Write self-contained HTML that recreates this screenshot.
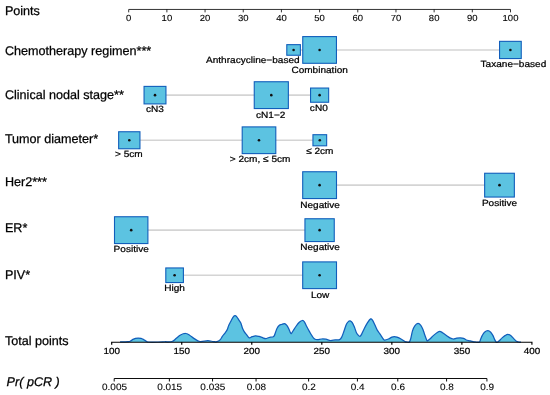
<!DOCTYPE html><html><head><meta charset="utf-8"><title>Nomogram</title><style>html,body{margin:0;padding:0;background:#fff}svg{display:block}text{font-family:"Liberation Sans",Arial,sans-serif;fill:#000;stroke:#000;stroke-width:0.25px;text-rendering:geometricPrecision}.s{font-size:10.05px}.l{font-size:12.6px}.t{font-size:9.5px;stroke-width:0.1px}.t2{font-size:9.9px}.t3{font-size:10px;stroke-width:0.1px}.m{text-anchor:middle}</style></head><body>
<svg width="550" height="395" viewBox="0 0 550 395">
<rect width="550" height="395" fill="#fff"/>
<text class="l" x="4.9" y="15.2">Points</text>
<text class="l" x="4.9" y="55">Chemotherapy regimen***</text>
<text class="l" x="4.9" y="99.1">Clinical nodal stage**</text>
<text class="l" x="4.9" y="143.0">Tumor diameter*</text>
<text class="l" x="4.9" y="186.3">Her2***</text>
<text class="l" x="4.9" y="232.3">ER*</text>
<text class="l" x="4.9" y="279.1">PIV*</text>
<text class="l" x="4.9" y="345.1">Total points</text>
<text class="l" x="6.6" y="386.1" font-style="italic">Pr( pCR )</text>
<path d="M128.7 12.35V9.45H510.5V12.35M166.88 9.45v2.9M205.06 9.45v2.9M243.24 9.45v2.9M281.42 9.45v2.9M319.60 9.45v2.9M357.78 9.45v2.9M395.96 9.45v2.9M434.14 9.45v2.9M472.32 9.45v2.9" fill="none" stroke="#000" stroke-width="0.8"/>
<text class="t" text-anchor="middle" transform="translate(128.70 21.30) scale(1 0.93)">0</text>
<text class="t" text-anchor="middle" transform="translate(166.88 21.30) scale(1 0.93)">10</text>
<text class="t" text-anchor="middle" transform="translate(205.06 21.30) scale(1 0.93)">20</text>
<text class="t" text-anchor="middle" transform="translate(243.24 21.30) scale(1 0.93)">30</text>
<text class="t" text-anchor="middle" transform="translate(281.42 21.30) scale(1 0.93)">40</text>
<text class="t" text-anchor="middle" transform="translate(319.60 21.30) scale(1 0.93)">50</text>
<text class="t" text-anchor="middle" transform="translate(357.78 21.30) scale(1 0.93)">60</text>
<text class="t" text-anchor="middle" transform="translate(395.96 21.30) scale(1 0.93)">70</text>
<text class="t" text-anchor="middle" transform="translate(434.14 21.30) scale(1 0.93)">80</text>
<text class="t" text-anchor="middle" transform="translate(472.32 21.30) scale(1 0.93)">90</text>
<text class="t" text-anchor="middle" transform="translate(510.50 21.30) scale(1 0.93)">100</text>
<line x1="293.6" x2="510.4" y1="49.95" y2="49.95" stroke="#d4d4d4" stroke-width="1.6"/>
<rect x="286.80" y="44.65" width="13.60" height="10.60" fill="#5cc3e1" stroke="#115ebb" stroke-width="1.1"/>
<circle cx="293.6" cy="49.95" r="1.3" fill="#111"/>
<rect x="302.75" y="36.60" width="33.70" height="26.70" fill="#5cc3e1" stroke="#115ebb" stroke-width="1.1"/>
<circle cx="319.6" cy="49.95" r="1.3" fill="#111"/>
<text class="s" text-anchor="middle" transform="translate(319.60 72.80) scale(1 0.9)">Combination</text>
<rect x="499.55" y="41.35" width="21.70" height="17.20" fill="#5cc3e1" stroke="#115ebb" stroke-width="1.1"/>
<circle cx="510.4" cy="49.95" r="1.3" fill="#111"/>
<text class="s" text-anchor="middle" transform="translate(513.40 67.00) scale(1 0.9)">Taxane−based</text>
<line x1="155.0" x2="319.6" y1="95.15" y2="95.15" stroke="#d4d4d4" stroke-width="1.6"/>
<rect x="144.05" y="86.40" width="21.90" height="17.50" fill="#5cc3e1" stroke="#115ebb" stroke-width="1.1"/>
<circle cx="155.0" cy="95.15" r="1.3" fill="#111"/>
<text class="s" text-anchor="middle" transform="translate(155.00 112.20) scale(1 0.9)">cN3</text>
<rect x="254.25" y="81.75" width="34.10" height="26.80" fill="#5cc3e1" stroke="#115ebb" stroke-width="1.1"/>
<circle cx="271.3" cy="95.15" r="1.3" fill="#111"/>
<text class="s" text-anchor="middle" transform="translate(270.70 117.50) scale(1 0.9)">cN1−2</text>
<rect x="310.55" y="88.05" width="18.10" height="14.20" fill="#5cc3e1" stroke="#115ebb" stroke-width="1.1"/>
<circle cx="319.6" cy="95.15" r="1.3" fill="#111"/>
<text class="s" text-anchor="middle" transform="translate(318.80 111.00) scale(1 0.9)">cN0</text>
<line x1="129.3" x2="319.8" y1="140.25" y2="140.25" stroke="#d4d4d4" stroke-width="1.6"/>
<rect x="118.65" y="131.75" width="21.30" height="17.00" fill="#5cc3e1" stroke="#115ebb" stroke-width="1.1"/>
<circle cx="129.3" cy="140.25" r="1.3" fill="#111"/>
<text class="s" text-anchor="middle" transform="translate(128.80 157.10) scale(1 0.9)">&gt; 5cm</text>
<rect x="242.20" y="126.90" width="33.60" height="26.70" fill="#5cc3e1" stroke="#115ebb" stroke-width="1.1"/>
<circle cx="259" cy="140.25" r="1.3" fill="#111"/>
<text class="s" text-anchor="middle" transform="translate(260.10 162.00) scale(1 0.9)">&gt; 2cm, ≤ 5cm</text>
<rect x="312.95" y="134.70" width="13.70" height="11.10" fill="#5cc3e1" stroke="#115ebb" stroke-width="1.1"/>
<circle cx="319.8" cy="140.25" r="1.3" fill="#111"/>
<text class="s" text-anchor="middle" transform="translate(319.80 153.80) scale(1 0.9)">≤ 2cm</text>
<line x1="319.6" x2="499.5" y1="185.15" y2="185.15" stroke="#d4d4d4" stroke-width="1.6"/>
<rect x="302.70" y="171.75" width="33.80" height="26.80" fill="#5cc3e1" stroke="#115ebb" stroke-width="1.1"/>
<circle cx="319.6" cy="185.15" r="1.3" fill="#111"/>
<text class="s" text-anchor="middle" transform="translate(320.10 207.60) scale(1 0.9)">Negative</text>
<rect x="484.65" y="173.25" width="29.70" height="23.80" fill="#5cc3e1" stroke="#115ebb" stroke-width="1.1"/>
<circle cx="499.5" cy="185.15" r="1.3" fill="#111"/>
<text class="s" text-anchor="middle" transform="translate(499.50 206.00) scale(1 0.9)">Positive</text>
<line x1="131.2" x2="319.6" y1="230.15" y2="230.15" stroke="#d4d4d4" stroke-width="1.6"/>
<rect x="114.50" y="216.75" width="33.40" height="26.80" fill="#5cc3e1" stroke="#115ebb" stroke-width="1.1"/>
<circle cx="131.2" cy="230.15" r="1.3" fill="#111"/>
<text class="s" text-anchor="middle" transform="translate(131.20 251.70) scale(1 0.9)">Positive</text>
<rect x="304.95" y="218.75" width="29.30" height="22.80" fill="#5cc3e1" stroke="#115ebb" stroke-width="1.1"/>
<circle cx="319.6" cy="230.15" r="1.3" fill="#111"/>
<text class="s" text-anchor="middle" transform="translate(320.10 250.40) scale(1 0.9)">Negative</text>
<line x1="174.6" x2="319.6" y1="275.25" y2="275.25" stroke="#d4d4d4" stroke-width="1.6"/>
<rect x="165.80" y="267.95" width="17.60" height="14.60" fill="#5cc3e1" stroke="#115ebb" stroke-width="1.1"/>
<circle cx="174.6" cy="275.25" r="1.3" fill="#111"/>
<text class="s" text-anchor="middle" transform="translate(174.60 291.10) scale(1 0.9)">High</text>
<rect x="302.70" y="261.90" width="33.80" height="26.70" fill="#5cc3e1" stroke="#115ebb" stroke-width="1.1"/>
<circle cx="319.6" cy="275.25" r="1.3" fill="#111"/>
<text class="s" text-anchor="middle" transform="translate(320.10 297.60) scale(1 0.9)">Low</text>
<text class="s" text-anchor="end" transform="translate(299.60 63.10) scale(1 0.9)">Anthracycline−based</text>
<path d="M120.00 342.00C120.47 341.97 121.47 341.85 122.80 341.80C124.13 341.75 126.77 341.78 128.00 341.70C129.23 341.62 129.37 341.68 130.20 341.30C131.03 340.92 132.12 339.88 133.00 339.40C133.88 338.92 134.63 338.63 135.50 338.40C136.37 338.17 137.28 338.00 138.20 338.00C139.12 338.00 140.15 338.17 141.00 338.40C141.85 338.63 142.35 338.88 143.30 339.40C144.25 339.92 145.83 341.07 146.70 341.50C147.57 341.93 146.62 341.92 148.50 342.00C150.38 342.08 155.32 342.04 158.00 342.00C160.68 341.96 162.27 341.83 164.60 341.75C166.93 341.67 170.10 342.02 172.00 341.50C173.90 340.98 174.58 339.68 176.00 338.60C177.42 337.52 178.90 335.85 180.50 335.00C182.10 334.15 184.08 333.47 185.60 333.50C187.12 333.53 188.17 334.35 189.60 335.20C191.03 336.05 192.48 337.55 194.20 338.60C195.92 339.65 197.63 341.15 199.90 341.50C202.17 341.85 205.55 340.68 207.80 340.70C210.05 340.72 211.90 341.43 213.40 341.60C214.90 341.77 215.65 342.03 216.80 341.70C217.95 341.37 219.35 340.52 220.30 339.60C221.25 338.68 221.75 337.25 222.50 336.20C223.25 335.15 224.03 334.35 224.80 333.30C225.57 332.25 226.43 331.23 227.10 329.90C227.77 328.57 228.13 326.82 228.80 325.30C229.47 323.78 230.35 322.22 231.10 320.80C231.85 319.38 232.63 317.65 233.30 316.80C233.97 315.95 234.52 315.70 235.10 315.70C235.68 315.70 236.15 316.05 236.80 316.80C237.45 317.55 238.33 319.15 239.00 320.20C239.67 321.25 240.22 321.77 240.80 323.10C241.38 324.43 241.93 326.78 242.50 328.20C243.07 329.62 243.55 330.57 244.20 331.60C244.85 332.63 245.55 333.35 246.40 334.40C247.25 335.45 248.35 337.52 249.30 337.90C250.25 338.28 251.05 337.05 252.10 336.70C253.15 336.35 254.45 335.85 255.60 335.80C256.75 335.75 257.83 336.08 259.00 336.40C260.17 336.72 261.48 337.33 262.60 337.70C263.72 338.07 264.62 338.63 265.70 338.60C266.78 338.57 267.77 337.87 269.10 337.50C270.43 337.13 272.65 337.20 273.70 336.40C274.75 335.60 274.83 334.07 275.40 332.70C275.97 331.33 276.43 329.43 277.10 328.20C277.77 326.97 278.65 325.92 279.40 325.30C280.15 324.68 280.75 324.78 281.60 324.50C282.45 324.22 283.63 323.47 284.50 323.60C285.37 323.73 286.13 324.53 286.80 325.30C287.47 326.07 287.93 327.05 288.50 328.20C289.07 329.35 289.73 331.30 290.20 332.20C290.67 333.10 290.83 333.80 291.30 333.60C291.77 333.40 292.23 332.18 293.00 331.00C293.77 329.82 294.85 327.95 295.90 326.50C296.95 325.05 298.22 323.30 299.30 322.30C300.38 321.30 301.55 320.57 302.40 320.50C303.25 320.43 303.68 320.90 304.40 321.90C305.12 322.90 305.85 324.88 306.70 326.50C307.55 328.12 308.63 330.07 309.50 331.60C310.37 333.13 311.10 334.52 311.90 335.70C312.70 336.88 313.38 338.03 314.30 338.70C315.22 339.37 316.22 339.65 317.40 339.70C318.58 339.75 319.98 339.08 321.40 339.00C322.82 338.92 324.38 338.95 325.90 339.20C327.42 339.45 328.97 340.38 330.50 340.50C332.03 340.62 333.58 340.05 335.10 339.90C336.62 339.75 338.47 340.13 339.60 339.60C340.73 339.07 341.13 338.22 341.90 336.70C342.67 335.18 343.45 332.58 344.20 330.50C344.95 328.42 345.65 325.73 346.40 324.20C347.15 322.67 348.08 321.87 348.70 321.30C349.32 320.73 349.53 320.63 350.10 320.80C350.67 320.97 351.38 321.27 352.10 322.30C352.82 323.33 353.63 325.17 354.40 327.00C355.17 328.83 355.93 331.82 356.70 333.30C357.47 334.78 358.43 335.40 359.00 335.90C359.57 336.40 359.63 336.63 360.10 336.30C360.57 335.97 361.10 335.20 361.80 333.90C362.50 332.60 363.37 330.35 364.30 328.50C365.23 326.65 366.35 324.40 367.40 322.80C368.45 321.20 369.75 319.33 370.60 318.90C371.45 318.47 371.80 319.22 372.50 320.20C373.20 321.18 374.03 323.18 374.80 324.80C375.57 326.42 376.25 328.38 377.10 329.90C377.95 331.42 378.95 332.48 379.90 333.90C380.85 335.32 382.03 337.37 382.80 338.40C383.57 339.43 383.55 340.00 384.50 340.10C385.45 340.20 387.27 339.50 388.50 339.00C389.73 338.50 390.95 337.52 391.90 337.10C392.85 336.68 393.35 336.50 394.20 336.50C395.05 336.50 395.87 336.68 397.00 337.10C398.13 337.52 399.67 338.25 401.00 339.00C402.33 339.75 403.95 341.10 405.00 341.60C406.05 342.10 406.55 341.98 407.30 342.00C408.05 342.02 408.92 342.30 409.50 341.70C410.08 341.10 410.30 340.20 410.80 338.40C411.30 336.60 411.83 332.98 412.50 330.90C413.17 328.82 413.88 327.15 414.80 325.90C415.72 324.65 417.00 323.50 418.00 323.40C419.00 323.30 419.95 324.22 420.80 325.30C421.65 326.38 422.43 328.28 423.10 329.90C423.77 331.52 424.23 333.38 424.80 335.00C425.37 336.62 426.08 338.62 426.50 339.60C426.92 340.58 426.73 341.00 427.30 340.90C427.87 340.80 428.90 339.88 429.90 339.00C430.90 338.12 432.07 336.68 433.30 335.60C434.53 334.52 436.22 333.20 437.30 332.50C438.38 331.80 438.93 331.37 439.80 331.40C440.67 331.43 441.40 332.00 442.50 332.70C443.60 333.40 445.17 334.73 446.40 335.60C447.63 336.47 448.75 337.33 449.90 337.90C451.05 338.47 452.17 338.97 453.30 339.00C454.43 339.03 455.50 338.28 456.70 338.10C457.90 337.92 459.37 337.87 460.50 337.90C461.63 337.93 462.53 337.95 463.50 338.30C464.47 338.65 465.18 339.58 466.30 340.00C467.42 340.42 468.97 340.50 470.20 340.80C471.43 341.10 472.75 341.60 473.70 341.80C474.65 342.00 474.95 341.97 475.90 342.00C476.85 342.03 478.63 342.40 479.40 342.00C480.17 341.60 480.03 340.67 480.50 339.60C480.97 338.53 481.53 336.83 482.20 335.60C482.87 334.37 483.55 333.02 484.50 332.20C485.45 331.38 486.87 330.70 487.90 330.70C488.93 330.70 489.85 331.38 490.70 332.20C491.55 333.02 492.33 334.37 493.00 335.60C493.67 336.83 494.17 338.53 494.70 339.60C495.23 340.67 495.72 341.60 496.20 342.00C496.68 342.40 497.08 342.22 497.60 342.00C498.12 341.78 498.55 341.38 499.30 340.70C500.05 340.02 501.15 338.75 502.10 337.90C503.05 337.05 504.05 336.18 505.00 335.60C505.95 335.02 506.85 334.40 507.80 334.40C508.75 334.40 509.75 334.93 510.70 335.60C511.65 336.27 512.55 337.45 513.50 338.40C514.45 339.35 515.53 340.70 516.40 341.30C517.27 341.90 517.93 341.88 518.70 342.00C519.47 342.12 520.62 342.00 521.00 342.00L521 342.0L120 342.0Z" fill="#5cc3e1"/>
<path d="M120.00 342.00C120.47 341.97 121.47 341.85 122.80 341.80C124.13 341.75 126.77 341.78 128.00 341.70C129.23 341.62 129.37 341.68 130.20 341.30C131.03 340.92 132.12 339.88 133.00 339.40C133.88 338.92 134.63 338.63 135.50 338.40C136.37 338.17 137.28 338.00 138.20 338.00C139.12 338.00 140.15 338.17 141.00 338.40C141.85 338.63 142.35 338.88 143.30 339.40C144.25 339.92 145.83 341.07 146.70 341.50C147.57 341.93 146.62 341.92 148.50 342.00C150.38 342.08 155.32 342.04 158.00 342.00C160.68 341.96 162.27 341.83 164.60 341.75C166.93 341.67 170.10 342.02 172.00 341.50C173.90 340.98 174.58 339.68 176.00 338.60C177.42 337.52 178.90 335.85 180.50 335.00C182.10 334.15 184.08 333.47 185.60 333.50C187.12 333.53 188.17 334.35 189.60 335.20C191.03 336.05 192.48 337.55 194.20 338.60C195.92 339.65 197.63 341.15 199.90 341.50C202.17 341.85 205.55 340.68 207.80 340.70C210.05 340.72 211.90 341.43 213.40 341.60C214.90 341.77 215.65 342.03 216.80 341.70C217.95 341.37 219.35 340.52 220.30 339.60C221.25 338.68 221.75 337.25 222.50 336.20C223.25 335.15 224.03 334.35 224.80 333.30C225.57 332.25 226.43 331.23 227.10 329.90C227.77 328.57 228.13 326.82 228.80 325.30C229.47 323.78 230.35 322.22 231.10 320.80C231.85 319.38 232.63 317.65 233.30 316.80C233.97 315.95 234.52 315.70 235.10 315.70C235.68 315.70 236.15 316.05 236.80 316.80C237.45 317.55 238.33 319.15 239.00 320.20C239.67 321.25 240.22 321.77 240.80 323.10C241.38 324.43 241.93 326.78 242.50 328.20C243.07 329.62 243.55 330.57 244.20 331.60C244.85 332.63 245.55 333.35 246.40 334.40C247.25 335.45 248.35 337.52 249.30 337.90C250.25 338.28 251.05 337.05 252.10 336.70C253.15 336.35 254.45 335.85 255.60 335.80C256.75 335.75 257.83 336.08 259.00 336.40C260.17 336.72 261.48 337.33 262.60 337.70C263.72 338.07 264.62 338.63 265.70 338.60C266.78 338.57 267.77 337.87 269.10 337.50C270.43 337.13 272.65 337.20 273.70 336.40C274.75 335.60 274.83 334.07 275.40 332.70C275.97 331.33 276.43 329.43 277.10 328.20C277.77 326.97 278.65 325.92 279.40 325.30C280.15 324.68 280.75 324.78 281.60 324.50C282.45 324.22 283.63 323.47 284.50 323.60C285.37 323.73 286.13 324.53 286.80 325.30C287.47 326.07 287.93 327.05 288.50 328.20C289.07 329.35 289.73 331.30 290.20 332.20C290.67 333.10 290.83 333.80 291.30 333.60C291.77 333.40 292.23 332.18 293.00 331.00C293.77 329.82 294.85 327.95 295.90 326.50C296.95 325.05 298.22 323.30 299.30 322.30C300.38 321.30 301.55 320.57 302.40 320.50C303.25 320.43 303.68 320.90 304.40 321.90C305.12 322.90 305.85 324.88 306.70 326.50C307.55 328.12 308.63 330.07 309.50 331.60C310.37 333.13 311.10 334.52 311.90 335.70C312.70 336.88 313.38 338.03 314.30 338.70C315.22 339.37 316.22 339.65 317.40 339.70C318.58 339.75 319.98 339.08 321.40 339.00C322.82 338.92 324.38 338.95 325.90 339.20C327.42 339.45 328.97 340.38 330.50 340.50C332.03 340.62 333.58 340.05 335.10 339.90C336.62 339.75 338.47 340.13 339.60 339.60C340.73 339.07 341.13 338.22 341.90 336.70C342.67 335.18 343.45 332.58 344.20 330.50C344.95 328.42 345.65 325.73 346.40 324.20C347.15 322.67 348.08 321.87 348.70 321.30C349.32 320.73 349.53 320.63 350.10 320.80C350.67 320.97 351.38 321.27 352.10 322.30C352.82 323.33 353.63 325.17 354.40 327.00C355.17 328.83 355.93 331.82 356.70 333.30C357.47 334.78 358.43 335.40 359.00 335.90C359.57 336.40 359.63 336.63 360.10 336.30C360.57 335.97 361.10 335.20 361.80 333.90C362.50 332.60 363.37 330.35 364.30 328.50C365.23 326.65 366.35 324.40 367.40 322.80C368.45 321.20 369.75 319.33 370.60 318.90C371.45 318.47 371.80 319.22 372.50 320.20C373.20 321.18 374.03 323.18 374.80 324.80C375.57 326.42 376.25 328.38 377.10 329.90C377.95 331.42 378.95 332.48 379.90 333.90C380.85 335.32 382.03 337.37 382.80 338.40C383.57 339.43 383.55 340.00 384.50 340.10C385.45 340.20 387.27 339.50 388.50 339.00C389.73 338.50 390.95 337.52 391.90 337.10C392.85 336.68 393.35 336.50 394.20 336.50C395.05 336.50 395.87 336.68 397.00 337.10C398.13 337.52 399.67 338.25 401.00 339.00C402.33 339.75 403.95 341.10 405.00 341.60C406.05 342.10 406.55 341.98 407.30 342.00C408.05 342.02 408.92 342.30 409.50 341.70C410.08 341.10 410.30 340.20 410.80 338.40C411.30 336.60 411.83 332.98 412.50 330.90C413.17 328.82 413.88 327.15 414.80 325.90C415.72 324.65 417.00 323.50 418.00 323.40C419.00 323.30 419.95 324.22 420.80 325.30C421.65 326.38 422.43 328.28 423.10 329.90C423.77 331.52 424.23 333.38 424.80 335.00C425.37 336.62 426.08 338.62 426.50 339.60C426.92 340.58 426.73 341.00 427.30 340.90C427.87 340.80 428.90 339.88 429.90 339.00C430.90 338.12 432.07 336.68 433.30 335.60C434.53 334.52 436.22 333.20 437.30 332.50C438.38 331.80 438.93 331.37 439.80 331.40C440.67 331.43 441.40 332.00 442.50 332.70C443.60 333.40 445.17 334.73 446.40 335.60C447.63 336.47 448.75 337.33 449.90 337.90C451.05 338.47 452.17 338.97 453.30 339.00C454.43 339.03 455.50 338.28 456.70 338.10C457.90 337.92 459.37 337.87 460.50 337.90C461.63 337.93 462.53 337.95 463.50 338.30C464.47 338.65 465.18 339.58 466.30 340.00C467.42 340.42 468.97 340.50 470.20 340.80C471.43 341.10 472.75 341.60 473.70 341.80C474.65 342.00 474.95 341.97 475.90 342.00C476.85 342.03 478.63 342.40 479.40 342.00C480.17 341.60 480.03 340.67 480.50 339.60C480.97 338.53 481.53 336.83 482.20 335.60C482.87 334.37 483.55 333.02 484.50 332.20C485.45 331.38 486.87 330.70 487.90 330.70C488.93 330.70 489.85 331.38 490.70 332.20C491.55 333.02 492.33 334.37 493.00 335.60C493.67 336.83 494.17 338.53 494.70 339.60C495.23 340.67 495.72 341.60 496.20 342.00C496.68 342.40 497.08 342.22 497.60 342.00C498.12 341.78 498.55 341.38 499.30 340.70C500.05 340.02 501.15 338.75 502.10 337.90C503.05 337.05 504.05 336.18 505.00 335.60C505.95 335.02 506.85 334.40 507.80 334.40C508.75 334.40 509.75 334.93 510.70 335.60C511.65 336.27 512.55 337.45 513.50 338.40C514.45 339.35 515.53 340.70 516.40 341.30C517.27 341.90 517.93 341.88 518.70 342.00C519.47 342.12 520.62 342.00 521.00 342.00" fill="none" stroke="#115ebb" stroke-width="1.25" stroke-linejoin="round"/>
<path d="M111.70 344.85V342.25H531.91V344.85M181.74 342.25v2.6M251.77 342.25v2.6M321.81 342.25v2.6M391.84 342.25v2.6M461.88 342.25v2.6" fill="none" stroke="#000" stroke-width="1.2"/>
<text class="t2" text-anchor="middle" transform="translate(111.70 354.30) scale(1 0.9)">100</text>
<text class="t2" text-anchor="middle" transform="translate(181.74 354.30) scale(1 0.9)">150</text>
<text class="t2" text-anchor="middle" transform="translate(251.77 354.30) scale(1 0.9)">200</text>
<text class="t2" text-anchor="middle" transform="translate(321.81 354.30) scale(1 0.9)">250</text>
<text class="t2" text-anchor="middle" transform="translate(391.84 354.30) scale(1 0.9)">300</text>
<text class="t2" text-anchor="middle" transform="translate(461.88 354.30) scale(1 0.9)">350</text>
<text class="t2" text-anchor="middle" transform="translate(531.91 354.30) scale(1 0.9)">400</text>
<path d="M114.20 381.5V378.5H486.93V381.5M169.37 378.5v3M212.55 378.5v3M256.06 378.5v3M308.61 378.5v3M357.42 378.5v3M397.77 378.5v3M446.58 378.5v3" fill="none" stroke="#000" stroke-width="0.95"/>
<text class="t3" text-anchor="middle" transform="translate(114.50 390.00) scale(1 0.92)">0.005</text>
<text class="t3" text-anchor="middle" transform="translate(169.67 390.00) scale(1 0.92)">0.015</text>
<text class="t3" text-anchor="middle" transform="translate(212.85 390.00) scale(1 0.92)">0.035</text>
<text class="t3" text-anchor="middle" transform="translate(256.36 390.00) scale(1 0.92)">0.08</text>
<text class="t3" text-anchor="middle" transform="translate(308.91 390.00) scale(1 0.92)">0.2</text>
<text class="t3" text-anchor="middle" transform="translate(357.72 390.00) scale(1 0.92)">0.4</text>
<text class="t3" text-anchor="middle" transform="translate(398.07 390.00) scale(1 0.92)">0.6</text>
<text class="t3" text-anchor="middle" transform="translate(446.88 390.00) scale(1 0.92)">0.8</text>
<text class="t3" text-anchor="middle" transform="translate(487.23 390.00) scale(1 0.92)">0.9</text>
</svg></body></html>
